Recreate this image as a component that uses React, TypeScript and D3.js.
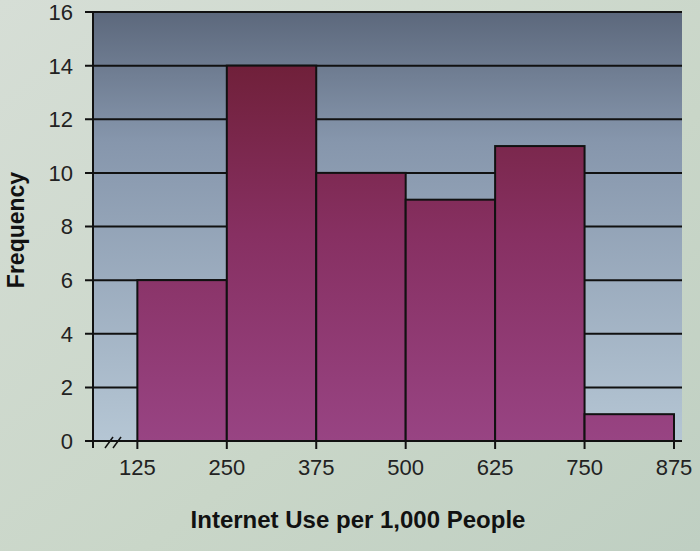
import * as d3 from "d3";

// histogram bins (lower edge, upper edge) and frequencies
const binStarts = [125, 250, 375, 500, 625, 750];
const binEnds = [250, 375, 500, 625, 750, 875];
const frequency = [6, 14, 10, 9, 11, 1];
const xTicks = [125, 250, 375, 500, 625, 750, 875];
const yTicks = [0, 2, 4, 6, 8, 10, 12, 14, 16];

const W = 700;
const H = 551;
const left = 93;
const right = 674;
const top = 12;
const bottom = 441;

export default function App() {
  const x = d3.scaleLinear().domain([63, 875]).range([left, right]);
  const y = d3.scaleLinear().domain([0, 16]).range([bottom, top]);

  return (
    <svg
      width={W}
      height={H}
      style={{ position: "absolute", left: 0, top: 0 }}
      fontFamily="'Liberation Sans', Arial, sans-serif"
    >
      <defs>
        <linearGradient id="page" x1="0" y1="0" x2="1" y2="1">
          <stop offset="0" stopColor="#d6ded6" />
          <stop offset="0.6" stopColor="#c9d6c8" />
          <stop offset="1" stopColor="#bfcfc2" />
        </linearGradient>
        <linearGradient id="plot" x1="0" y1="0" x2="0" y2="1">
          <stop offset="0" stopColor="#5c687c" />
          <stop offset="0.3" stopColor="#8696ac" />
          <stop offset="1" stopColor="#b5c6d4" />
        </linearGradient>
        <linearGradient
          id="bar"
          gradientUnits="userSpaceOnUse"
          x1="0"
          y1={y(14)}
          x2="0"
          y2={bottom}
        >
          <stop offset="0" stopColor="#70203a" />
          <stop offset="0.45" stopColor="#873062" />
          <stop offset="1" stopColor="#984483" />
        </linearGradient>
      </defs>
      <rect width={W} height={H} fill="url(#page)" />
      <rect
        x={left}
        y={top}
        width={right - left + 8}
        height={bottom - top}
        fill="url(#plot)"
      />

      {/* gridlines and y ticks */}
      {yTicks.map((t) => (
        <g key={t}>
          <line
            x1={left - 8}
            x2={right + 8}
            y1={y(t)}
            y2={y(t)}
            stroke="#111"
            strokeWidth={2}
          />
          <text
            x={left - 20}
            y={y(t)}
            dy="0.36em"
            textAnchor="end"
            fontSize={22}
            fill="#222"
          >
            {t}
          </text>
        </g>
      ))}

      {/* bars */}
      {frequency.map((f, i) => (
        <rect
          key={i}
          x={x(binStarts[i])}
          y={y(f)}
          width={x(binEnds[i]) - x(binStarts[i])}
          height={bottom - y(f)}
          fill="url(#bar)"
          stroke="#111"
          strokeWidth={2}
        />
      ))}

      {/* axes */}
      <line x1={left} x2={left} y1={top} y2={bottom} stroke="#111" strokeWidth={2} />
      <line x1={left - 8} x2={right} y1={bottom} y2={bottom} stroke="#111" strokeWidth={2} />
      <line x1={left} x2={left} y1={bottom} y2={bottom + 7} stroke="#111" strokeWidth={2} />
      {/* axis break */}
      <line x1={left + 12} x2={left + 20} y1={bottom + 7} y2={bottom - 4} stroke="#111" strokeWidth={1.5} />
      <line x1={left + 20} x2={left + 28} y1={bottom + 7} y2={bottom - 4} stroke="#111" strokeWidth={1.5} />

      {xTicks.map((t) => (
        <g key={t}>
          <line
            x1={x(t)}
            x2={x(t)}
            y1={bottom}
            y2={bottom + 8}
            stroke="#111"
            strokeWidth={2}
          />
          <text
            x={x(t)}
            y={bottom + 34}
            textAnchor="middle"
            fontSize={22}
            fill="#222"
          >
            {t}
          </text>
        </g>
      ))}

      <text
        x={358}
        y={528}
        textAnchor="middle"
        fontSize={24}
        fontWeight="bold"
        fill="#111"
      >
        Internet Use per 1,000 People
      </text>
      <text
        transform="translate(24,230) rotate(-90)"
        textAnchor="middle"
        fontSize={23}
        fontWeight="bold"
        fill="#111"
      >
        Frequency
      </text>
    </svg>
  );
}
